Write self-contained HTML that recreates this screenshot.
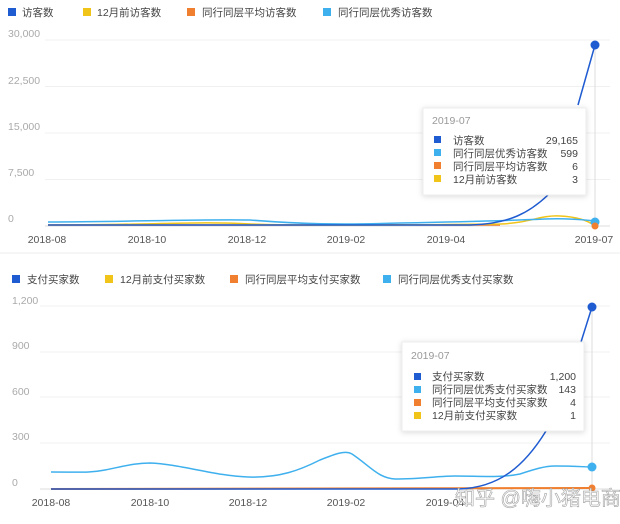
<!DOCTYPE html>
<html><head><meta charset="utf-8"><style>
body{margin:0;background:#fff;}
svg{display:block;font-family:"Liberation Sans","Noto Sans CJK SC",sans-serif;}
</style></head><body>
<svg width="620" height="524" viewBox="0 0 620 524">
<rect width="620" height="524" fill="#fff"/>
<!-- TOP CHART -->
<g font-size="10.5" fill="#444">
<rect x="8" y="8" width="8" height="8" fill="#1f5bd1"/><text x="22" y="16">访客数</text>
<rect x="83" y="8" width="8" height="8" fill="#f0c419"/><text x="97" y="16">12月前访客数</text>
<rect x="187" y="8" width="8" height="8" fill="#f08030"/><text x="202" y="16">同行同层平均访客数</text>
<rect x="323" y="8" width="8" height="8" fill="#3fb0ee"/><text x="338" y="16">同行同层优秀访客数</text>
</g>
<g stroke="#f0f0f0" stroke-width="1">
<line x1="45" y1="40" x2="610" y2="40"/><line x1="45" y1="86.5" x2="610" y2="86.5"/>
<line x1="45" y1="133" x2="610" y2="133"/><line x1="45" y1="179.5" x2="610" y2="179.5"/>
</g>
<line x1="45" y1="226" x2="610" y2="226" stroke="#ddd"/>
<g font-size="10.5" fill="#aaa">
<text x="8" y="37">30,000</text><text x="8" y="84">22,500</text><text x="8" y="130">15,000</text>
<text x="8" y="176">7,500</text><text x="8" y="222">0</text>
</g>
<g font-size="10.5" fill="#555" text-anchor="middle">
<text x="47" y="243">2018-08</text><text x="147" y="243">2018-10</text><text x="247" y="243">2018-12</text>
<text x="346" y="243">2019-02</text><text x="446" y="243">2019-04</text><text x="594" y="243">2019-07</text>
</g>
<line x1="595" y1="45" x2="595" y2="226" stroke="#ddd"/>
<path d="M48,225 L300,225 C350,224 400,225 500,225" stroke="#f08030" stroke-width="1.5" fill="none"/>
<path d="M48,225 C150,225 200,221 250,224 C300,226 400,225 500,224 C530,223 540,215 560,216 C580,217 590,222 595,226" stroke="#f0c419" stroke-width="1.5" fill="none"/>
<path d="M48,222 C120,222 200,219 250,220 C300,224 340,225 400,223 C450,222 500,221 545,219 C570,218 585,220 595,221" stroke="#3fb0ee" stroke-width="1.5" fill="none"/>
<path d="M48,225 L470,225 C510,224 530,212 548,195 M578,105 L595,45" stroke="#1f5bd1" stroke-width="1.5" fill="none"/>
<circle cx="595" cy="45" r="4.5" fill="#1f5bd1"/>
<circle cx="595" cy="222" r="4.5" fill="#3fb0ee"/>
<circle cx="595" cy="226" r="3.5" fill="#f08030"/>
<rect x="423" y="108" width="163" height="87" fill="#fff" stroke="#eee" style="filter:drop-shadow(0 1px 3px rgba(0,0,0,0.15))"/>
<g font-size="10.5" fill="#444">
<text x="432" y="124" fill="#999">2019-07</text>
<rect x="434" y="136" width="7" height="7" fill="#1f5bd1"/><text x="453" y="144">访客数</text><text x="578" y="144" text-anchor="end">29,165</text>
<rect x="434" y="149" width="7" height="7" fill="#3fb0ee"/><text x="453" y="157">同行同层优秀访客数</text><text x="578" y="157" text-anchor="end">599</text>
<rect x="434" y="162" width="7" height="7" fill="#f08030"/><text x="453" y="170">同行同层平均访客数</text><text x="578" y="170" text-anchor="end">6</text>
<rect x="434" y="175" width="7" height="7" fill="#f0c419"/><text x="453" y="183">12月前访客数</text><text x="578" y="183" text-anchor="end">3</text>
</g>
<line x1="0" y1="253" x2="620" y2="253" stroke="#eee"/>
<!-- BOTTOM CHART -->
<g font-size="10.5" fill="#444">
<rect x="12" y="275" width="8" height="8" fill="#1f5bd1"/><text x="27" y="283">支付买家数</text>
<rect x="105" y="275" width="8" height="8" fill="#f0c419"/><text x="120" y="283">12月前支付买家数</text>
<rect x="230" y="275" width="8" height="8" fill="#f08030"/><text x="245" y="283">同行同层平均支付买家数</text>
<rect x="383" y="275" width="8" height="8" fill="#3fb0ee"/><text x="398" y="283">同行同层优秀支付买家数</text>
</g>
<g stroke="#f0f0f0" stroke-width="1">
<line x1="40" y1="306" x2="610" y2="306"/><line x1="40" y1="352" x2="610" y2="352"/>
<line x1="40" y1="397" x2="610" y2="397"/><line x1="40" y1="443" x2="610" y2="443"/>
</g>
<line x1="40" y1="489" x2="610" y2="489" stroke="#ddd"/>
<g font-size="10.5" fill="#aaa">
<text x="12" y="304">1,200</text><text x="12" y="349">900</text><text x="12" y="395">600</text>
<text x="12" y="440">300</text><text x="12" y="486">0</text>
</g>
<g font-size="10.5" fill="#555" text-anchor="middle">
<text x="51" y="506">2018-08</text><text x="150" y="506">2018-10</text><text x="248" y="506">2018-12</text>
<text x="346" y="506">2019-02</text><text x="445" y="506">2019-04</text>
</g>
<line x1="592" y1="307" x2="592" y2="489" stroke="#ddd"/>
<path d="M51,472 C80,472 90,473 105,470 C125,466 135,463 150,463 C180,464 215,476 248,477 C280,478 300,470 320,460 C335,454 345,450 352,454 C370,466 378,478 395,479 C420,479 440,476 455,476 C480,476 500,478 520,474 C535,469 545,466 555,466 C575,466 585,467 592,467" stroke="#3fb0ee" stroke-width="1.5" fill="none"/>
<path d="M51,489 L592,488" stroke="#f08030" stroke-width="2" fill="none"/>
<path d="M51,489 L458,489 C500,488 525,465 546,431 M581,342 L592,307" stroke="#1f5bd1" stroke-width="1.5" fill="none"/>
<circle cx="592" cy="307" r="4.5" fill="#1f5bd1"/>
<circle cx="592" cy="467" r="4.5" fill="#3fb0ee"/>
<circle cx="592" cy="488" r="3.5" fill="#f08030"/>
<rect x="402" y="342" width="182" height="89" fill="#fff" stroke="#eee" style="filter:drop-shadow(0 1px 3px rgba(0,0,0,0.15))"/>
<g font-size="10.5" fill="#444">
<text x="411" y="359" fill="#999">2019-07</text>
<rect x="414" y="373" width="7" height="7" fill="#1f5bd1"/><text x="432" y="380">支付买家数</text><text x="576" y="380" text-anchor="end">1,200</text>
<rect x="414" y="386" width="7" height="7" fill="#3fb0ee"/><text x="432" y="393">同行同层优秀支付买家数</text><text x="576" y="393" text-anchor="end">143</text>
<rect x="414" y="399" width="7" height="7" fill="#f08030"/><text x="432" y="406">同行同层平均支付买家数</text><text x="576" y="406" text-anchor="end">4</text>
<rect x="414" y="412" width="7" height="7" fill="#f0c419"/><text x="432" y="419">12月前支付买家数</text><text x="576" y="419" text-anchor="end">1</text>
</g>
<text x="455" y="505" font-size="20" fill="#fff" stroke="#999" stroke-width="0.6" opacity="0.9">知乎 @嗨小猪电商</text>
</svg>
</body></html>
